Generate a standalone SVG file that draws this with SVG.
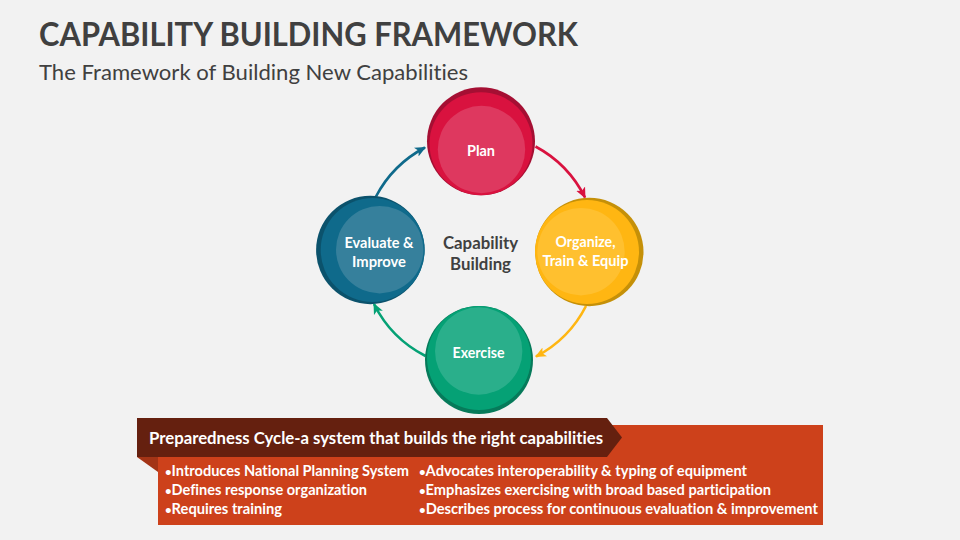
<svg xmlns="http://www.w3.org/2000/svg" width="960" height="540" viewBox="0 0 960 540">
<style>
text{font-family:"Lato","Liberation Sans",sans-serif;font-variant-ligatures:none}
.title{font-size:33px;font-weight:700;fill:#404040}
.sub{font-size:22px;fill:#404040}
.node{font-size:15px;font-weight:700;fill:#fff;text-anchor:middle}
.center{font-size:16.5px;font-weight:700;fill:#404040;text-anchor:middle}
.head{font-size:17px;font-weight:700;fill:#fff}
.item{font-size:14.8px;font-weight:700;fill:#fff}
.dot{font-size:11.5px}
.arc{fill:none;stroke-width:2.6}
</style>
<defs>
<marker id="mr" viewBox="0 0 10 10" refX="9" refY="5" markerWidth="11" markerHeight="11" markerUnits="userSpaceOnUse" orient="auto"><path d="M0 0.5L10 5L0 9.5L2.5 5Z" fill="#D9123F"/></marker>
<marker id="my" viewBox="0 0 10 10" refX="9" refY="5" markerWidth="11" markerHeight="11" markerUnits="userSpaceOnUse" orient="auto"><path d="M0 0.5L10 5L0 9.5L2.5 5Z" fill="#FFB612"/></marker>
<marker id="mg" viewBox="0 0 10 10" refX="9" refY="5" markerWidth="11" markerHeight="11" markerUnits="userSpaceOnUse" orient="auto"><path d="M0 0.5L10 5L0 9.5L2.5 5Z" fill="#05A175"/></marker>
<marker id="mb" viewBox="0 0 10 10" refX="9" refY="5" markerWidth="11" markerHeight="11" markerUnits="userSpaceOnUse" orient="auto"><path d="M0 0.5L10 5L0 9.5L2.5 5Z" fill="#0F6A8B"/></marker>
</defs>
<rect width="960" height="540" fill="#F2F2F2"/>
<g id="heading">
<text class="title" x="39" y="46" textLength="539" lengthAdjust="spacingAndGlyphs">CAPABILITY BUILDING FRAMEWORK</text>
<text class="sub" x="39" y="80" textLength="429" lengthAdjust="spacingAndGlyphs">The Framework of Building New Capabilities</text>
</g>
<g id="connectors">
<path class="arc" stroke="#D9123F" marker-end="url(#mr)" d="M535.5 146.5A117 117 0 0 1 585 197.5"/>
<path class="arc" stroke="#FFB612" marker-end="url(#my)" d="M586 306A117 117 0 0 1 536 356.5"/>
<path class="arc" stroke="#05A175" marker-end="url(#mg)" d="M425.5 356A117 117 0 0 1 374 304"/>
<path class="arc" stroke="#0F6A8B" marker-end="url(#mb)" d="M376 196.5A117 117 0 0 1 425 147.5"/>
</g>
<g id="node-plan">
<circle cx="481" cy="141.3" r="54" fill="#A50F33"/>
<circle cx="481" cy="143.7" r="51.5" fill="#D9123F"/>
<circle cx="481.5" cy="149.5" r="43.7" fill="#DE385F"/>
<text class="node" x="481" y="155.5" textLength="28" lengthAdjust="spacingAndGlyphs">Plan</text>
</g>
<g id="node-organize">
<circle cx="589.3" cy="252" r="54.2" fill="#C59008"/>
<circle cx="587" cy="252" r="52" fill="#FFB612"/>
<circle cx="581" cy="251.7" r="43.7" fill="#FFC02F"/>
<text class="node" x="585.5" y="247" textLength="60" lengthAdjust="spacingAndGlyphs">Organize,</text>
<text class="node" x="585.5" y="266" textLength="86" lengthAdjust="spacingAndGlyphs">Train &amp; Equip</text>
</g>
<g id="node-exercise">
<circle cx="479" cy="360" r="54" fill="#067A5A"/>
<circle cx="479" cy="358" r="52" fill="#05A175"/>
<circle cx="478.7" cy="351" r="43.7" fill="#2AAF8B"/>
<text class="node" x="478.5" y="357.5" textLength="52" lengthAdjust="spacingAndGlyphs">Exercise</text>
</g>
<g id="node-evaluate">
<circle cx="370.3" cy="250" r="54.2" fill="#0B526C"/>
<circle cx="372.7" cy="250" r="52" fill="#0F6A8B"/>
<circle cx="379.7" cy="249.7" r="43.7" fill="#36809C"/>
<text class="node" x="379" y="248" textLength="69" lengthAdjust="spacingAndGlyphs">Evaluate &amp;</text>
<text class="node" x="379" y="267" textLength="54" lengthAdjust="spacingAndGlyphs">Improve</text>
</g>
<g id="node-center">
<text class="center" x="480.5" y="248.5" textLength="75" lengthAdjust="spacingAndGlyphs">Capability</text>
<text class="center" x="480.5" y="269.5" textLength="61" lengthAdjust="spacingAndGlyphs">Building</text>
</g>
<g id="panel">
<rect x="158" y="425" width="665" height="100" fill="#CD411B"/>
<path d="M137 457H158V472Z" fill="#A33416"/>
<path d="M137 418H607L622 437.5L607 457H137Z" fill="#65200F"/>
<text class="head" x="149" y="444" textLength="454" lengthAdjust="spacingAndGlyphs">Preparedness Cycle-a system that builds the right capabilities</text>
<text class="item" x="165" y="476" textLength="244" lengthAdjust="spacingAndGlyphs"><tspan class="dot">•</tspan>Introduces National Planning System</text>
<text class="item" x="165" y="495" textLength="202" lengthAdjust="spacingAndGlyphs"><tspan class="dot">•</tspan>Defines response organization</text>
<text class="item" x="165" y="514" textLength="117" lengthAdjust="spacingAndGlyphs"><tspan class="dot">•</tspan>Requires training</text>
<text class="item" x="419" y="476" textLength="328" lengthAdjust="spacingAndGlyphs"><tspan class="dot">•</tspan>Advocates interoperability &amp; typing of equipment</text>
<text class="item" x="419" y="495" textLength="352" lengthAdjust="spacingAndGlyphs"><tspan class="dot">•</tspan>Emphasizes exercising with broad based participation</text>
<text class="item" x="419" y="514" textLength="399" lengthAdjust="spacingAndGlyphs"><tspan class="dot">•</tspan>Describes process for continuous evaluation &amp; improvement</text>
</g>
</svg>
